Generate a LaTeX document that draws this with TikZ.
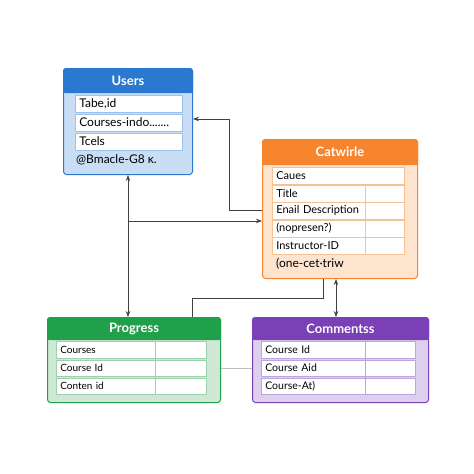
\documentclass[tikz,border=0pt]{standalone}
\usepackage{fontspec}
\setmainfont{Lato}
\usetikzlibrary{arrows.meta, calc}

\definecolor{usrC}{HTML}{2A78CF}
\definecolor{usrL}{HTML}{C9DEF4}
\definecolor{usrR}{HTML}{9CC2EA}
\definecolor{catC}{HTML}{F6852D}
\definecolor{catL}{HTML}{FDE4CF}
\definecolor{catR}{HTML}{F3C296}
\definecolor{prgC}{HTML}{21A04B}
\definecolor{prgL}{HTML}{CFE8D6}
\definecolor{prgR}{HTML}{9ED2AE}
\definecolor{comC}{HTML}{7B3FB6}
\definecolor{comL}{HTML}{DDD0EF}
\definecolor{comR}{HTML}{BDA5DF}

\tikzset{
    tbox/.style={draw=#1, line width=1pt, rounded corners=3pt, anchor=north west, inner sep=0pt},
    thead/.style={text=white, font=\bfseries\fontsize{13}{15}\selectfont},
    trow/.style 2 args={draw=#1, fill=white, line width=0.6pt, anchor=north west, align=left,
        inner xsep=4pt, inner ysep=0pt, minimum height=16.5pt, font=\fontsize{#2}{14}\selectfont},
    tfoot/.style={anchor=west, inner sep=0pt, font=\fontsize{#1}{14}\selectfont},
    link/.style={draw=black!75, line width=0.8pt, >={Stealth[length=6pt, width=4.5pt]}},
    faint/.style={draw=black!25, line width=0.6pt}
}

\begin{document}
\begin{tikzpicture}[x=1pt, y=-1pt]
    \useasboundingbox (0,0) rectangle (474,474);
    % Users table
    \node[tbox=usrC, fill=usrL, minimum width=129pt, minimum height=106pt] (usersbox) at (63,68) {};
    \fill[usrC, rounded corners=3pt] (usersbox.north west) rectangle ([yshift=-25pt]usersbox.north east);
    \fill[usrC] ([yshift=-15pt]usersbox.north west) rectangle ([yshift=-25pt]usersbox.north east);
    \node[thead] (users) at ([yshift=-12.5pt]usersbox.north) {Users};
    \node[trow={usrR}{12}, text width=99pt] (u1) at (75,95) {Tabe,id};
    \node[trow={usrR}{12}, text width=99pt] (u2) at (75,114) {Courses-indo.......};
    \node[trow={usrR}{12}, text width=99pt] (u3) at (75,133) {Tcels};
    \node[tfoot=12] (u4) at (76,160) {@Bmacle-G8 κ.};
    % Catwirle table
    \node[tbox=catC, fill=catL, minimum width=155pt, minimum height=139pt] (catbox) at (262,139) {};
    \fill[catC, rounded corners=3pt] (catbox.north west) rectangle ([yshift=-26pt]catbox.north east);
    \fill[catC] ([yshift=-15pt]catbox.north west) rectangle ([yshift=-26pt]catbox.north east);
    \node[thead] (cat) at ([yshift=-13pt]catbox.north) {Catwirle};
    \node[trow={catR}{11}, text width=124pt] (c1) at (272,167) {Caues};
    \node[trow={catR}{11}, text width=124pt] (c2) at (272,185) {Title};
    \node[trow={catR}{11}, text width=124pt] (c3) at (272,202) {Enail Description};
    \node[trow={catR}{11}, text width=124pt] (c4) at (272,220) {(nopresen?)};
    \node[trow={catR}{11}, text width=124pt] (c5) at (272,237) {Instructor-ID};
    \draw[catR, line width=0.6pt] (365,185) -- (365,253.5);
    \node[tfoot=12] (c6) at (276,264) {(one-cet·triw};
    % Progress table
    \node[tbox=prgC, fill=prgL, minimum width=173pt, minimum height=85pt] (progbox) at (47,317) {};
    \fill[prgC, rounded corners=3pt] (progbox.north west) rectangle ([yshift=-23pt]progbox.north east);
    \fill[prgC] ([yshift=-13pt]progbox.north west) rectangle ([yshift=-23pt]progbox.north east);
    \node[thead] (prog) at ([yshift=-11.5pt]progbox.north) {Progress};
    \node[trow={prgR}{10}, text width=142pt] (p1) at (56,341) {Courses};
    \node[trow={prgR}{10}, text width=142pt] (p2) at (56,359.5) {Course Id};
    \node[trow={prgR}{10}, text width=142pt] (p3) at (56,377.5) {Conten id};
    \draw[prgR, line width=0.6pt] (155,341) -- (155,394);
    % Comments table
    \node[tbox=comC, fill=comL, minimum width=176pt, minimum height=85pt] (combox) at (252,317) {};
    \fill[comC, rounded corners=3pt] (combox.north west) rectangle ([yshift=-23pt]combox.north east);
    \fill[comC] ([yshift=-13pt]combox.north west) rectangle ([yshift=-23pt]combox.north east);
    \node[thead] (com) at ([yshift=-11.5pt]combox.north) {Commentss};
    \node[trow={comR}{10.5}, text width=146pt] (m1) at (261,341) {Course Id};
    \node[trow={comR}{10.5}, text width=146pt] (m2) at (261,359.5) {Course Aid};
    \node[trow={comR}{10.5}, text width=146pt] (m3) at (261,377.5) {Course-At)};
    \draw[comR, line width=0.6pt] (365,341) -- (365,394);
    % Connectors
    \coordinate (bendA) at (229,119);
    \coordinate (trunk) at (128,221);
    \coordinate (bendC1) at (323,298);
    \coordinate (bendC2) at (192,298);
    \coordinate (dblD) at (336,298);
    \draw[link, ->] (catbox.west |- c3) -| (bendA) -- (bendA -| usersbox.east);
    \draw[link, <->] (trunk |- usersbox.south) -- (trunk |- progbox.north);
    \draw[link, ->] (trunk) -- (trunk -| catbox.west);
    \draw[link] (bendC1 |- catbox.south) -- (bendC1) -- (bendC2) -- (bendC2 |- progbox.north);
    \draw[link, <->] (dblD |- catbox.south) -- (dblD |- combox.north);
    \draw[faint] (progbox.east |- m2) -- (combox.west |- m2);
\end{tikzpicture}
\end{document}
